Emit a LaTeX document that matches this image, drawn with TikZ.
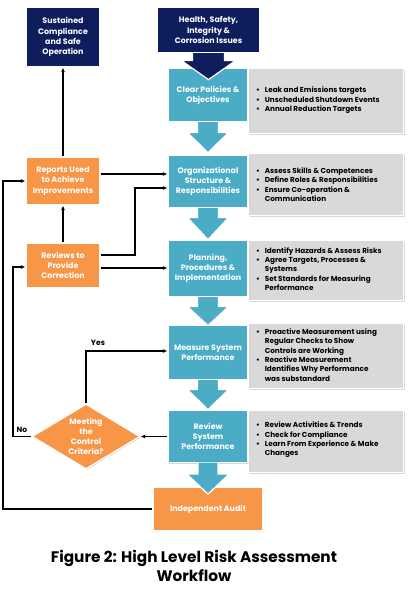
\documentclass[tikz,border=0pt]{standalone}
\usepackage{fontspec}
\setmainfont{Poppins}
\usetikzlibrary{shapes.geometric,shadows,calc,arrows.meta}
\definecolor{navyc}{RGB}{14,30,92}
\definecolor{tealc}{RGB}{75,172,198}
\definecolor{orangec}{RGB}{247,150,70}
\definecolor{panelc}{RGB}{217,217,217}
% #1 node, #2 colour, #3 stem half width, #4 stem length, #5 head half width, #6 tip depth
\newcommand\mychev[6]{%
  \path (#1.south) coordinate (cs-#1);
  \filldraw[fill=#2, draw=white, line width=1.2pt, line join=miter]
    ($(cs-#1)+(-#3,-0.6)$) -- ($(cs-#1)+(-#3,#4)$) -- ($(cs-#1)+(-#5,#4)$)
    -- ($(cs-#1)+(0,#6)$) -- ($(cs-#1)+(#5,#4)$) -- ($(cs-#1)+(#3,#4)$) -- ($(cs-#1)+(#3,-0.6)$);}
\begin{document}
\begin{tikzpicture}[x=1pt,y=-1pt,
  box/.style={rectangle, draw=white, line width=1.2pt, text=white, align=center,
    font=\bfseries\fontsize{7.9}{10.2}\selectfont, inner sep=1pt,
    drop shadow={opacity=0.3, shadow xshift=1pt, shadow yshift=-1pt}},
  navybox/.style={box, fill=navyc},
  tealbox/.style={box, fill=tealc, minimum width=80pt},
  orangebox/.style={box, fill=orangec},
  panel/.style={rectangle, fill=panelc, draw=white, line width=0.8pt, minimum width=155pt,
    drop shadow={opacity=0.3, shadow xshift=1.5pt, shadow yshift=-1.5pt}},
  paneltext/.style={anchor=west, inner sep=0pt, text=black, align=left,
    font=\bfseries\fontsize{7.25}{9.4}\selectfont},
  conn/.style={draw=black, line width=1.1pt, -{Latex[length=4.5pt,width=4pt]}},
  lbl/.style={font=\bfseries\fontsize{7.6}{9}\selectfont, text=black, inner sep=0pt},
  caption/.style={font=\bfseries\fontsize{15.3}{19}\selectfont, align=center, text=black}
]
\useasboundingbox[fill=white] (0,0) rectangle (408,598);

% grey panels
\node[panel, minimum height=65pt] (p1) at (325.5,100.5) {};
\node[panel, minimum height=62pt] (p2) at (325.5,184) {};
\node[panel, minimum height=60pt] (p3) at (325.5,270) {};
\node[panel, minimum height=65pt] (p4) at (325.5,355.5) {};
\node[panel, minimum height=62pt] (p5) at (325.5,441) {};

\node[paneltext] (t1) at (256,100.5) {\begin{tabular}{@{}l@{\hspace{5pt}}l@{}}
• & Leak and Emissions targets\\
• & Unscheduled Shutdown Events\\
• & Annual Reduction Targets\end{tabular}};
\node[paneltext] (t2) at (256,185.5) {\begin{tabular}{@{}l@{\hspace{5pt}}l@{}}
• & Assess Skills \& Competences\\
• & Define Roles \& Responsibilities\\
• & Ensure Co-operation \&\\
  & Communication\end{tabular}};
\node[paneltext] (t3) at (256,270) {\begin{tabular}{@{}l@{\hspace{5pt}}l@{}}
• & Identify Hazards \& Assess Risks\\
• & Agree Targets, Processes \&\\
  & Systems\\
• & Set Standards for Measuring\\
  & Performance\end{tabular}};
\node[paneltext] (t4) at (256,356) {\begin{tabular}{@{}l@{\hspace{5pt}}l@{}}
• & Proactive Measurement using\\
  & Regular Checks to Show\\
  & Controls are Working\\
• & Reactive Measurement\\
  & Identifies Why Performance\\
  & was substandard\end{tabular}};
\node[paneltext] (t5) at (256,440) {\begin{tabular}{@{}l@{\hspace{5pt}}l@{}}
• & Review Activities \& Trends\\
• & Check for Compliance\\
• & Learn From Experience \& Make\\
  & Changes\end{tabular}};

% main column, drawn bottom to top so each arrow lies over the next box
\node[orangebox, minimum width=110pt, minimum height=44pt] (audit) at (208,509) {Independent Audit};
\node[tealbox, minimum height=52pt] (review) at (208,436.5) {Review\\System\\Performance};
\mychev{review}{tealc}{10}{11}{21}{31}
\node[tealbox, minimum height=55pt] (measure) at (208,352.5) {Measure System\\Performance};
\mychev{measure}{tealc}{10.5}{9}{20.5}{29}
\node[tealbox, minimum height=57pt] (plan) at (208,268.5) {Planning,\\Procedures \&\\Implementation};
\mychev{plan}{tealc}{10.5}{9}{20.5}{28}
\node[tealbox, minimum height=53pt] (org) at (208,181.5) {Organizational\\Structure \&\\Responsibilities};
\mychev{org}{tealc}{10.5}{9}{20.5}{31}
\node[tealbox, minimum height=54pt] (clear) at (208,95) {Clear Policies \&\\Objectives};
\mychev{clear}{tealc}{10.5}{10}{20.5}{30}
\node[navybox, minimum width=103pt, minimum height=46pt] (health) at (208.5,30) {Health, Safety,\\Integrity \&\\Corrosion Issues};
\mychev{health}{navyc}{16}{7}{27}{26}

% left column
\node[navybox, minimum width=74pt, minimum height=60pt] (sustained) at (63,37) {Sustained\\Compliance\\and Safe\\Operation};
\node[orangebox, minimum width=74pt, minimum height=48pt] (reports) at (63,181) {Reports Used\\to Achieve\\Improvements};
\node[orangebox, minimum width=74pt, minimum height=45pt] (reviews) at (63,265.5) {Reviews to\\Provide\\Correction};
\node[diamond, fill=orangec, draw=white, line width=1.2pt, minimum width=108pt, minimum height=65pt,
  inner sep=0pt, drop shadow={opacity=0.3, shadow xshift=1pt, shadow yshift=-1pt}] (dia) at (86,436.5) {};
\node[text=white, align=center, font=\bfseries\fontsize{7.9}{10}\selectfont, inner sep=0pt] (diatext) at (dia.center) {Meeting\\the\\Control\\Criteria?};

% connectors
\coordinate (rvbend) at (135,0);
\coordinate (nox) at (13,0);
\coordinate (aux) at (3,0);
\draw[conn] (reports) -- (sustained);
\draw[conn] (reviews) -- (reports);
\draw[conn] ([yshift=7pt]reports.east) -- ([yshift=7pt]reports.east -| org.west);
\draw[conn] ([yshift=10.5pt]reviews.east) -| ($(rvbend |- org.west)+(0,6.5)$) -- ($(org.west)+(0,6.5)$);
\draw[conn] ([yshift=-2.5pt]reviews.east) -- ([yshift=-2.5pt]reviews.east -| plan.west);
\draw[conn] (dia.north) |- ($(measure.west)+(0,-1.5)$);
\draw[conn] (review.west) -- (dia.east);
\draw[conn] (dia.west) -- (dia.west -| nox) |- ($(reviews.west)+(0,1.5)$);
\draw[conn] (audit.west) -- (audit.west -| aux) |- (reports.west);

\node[lbl] (yes) at (98,343) {Yes};
\node[lbl] (no) at (22,430) {No};

\node[caption] (cap) at (194,565.5) {Figure 2: High Level Risk Assessment\\Workflow};
\end{tikzpicture}
\end{document}
